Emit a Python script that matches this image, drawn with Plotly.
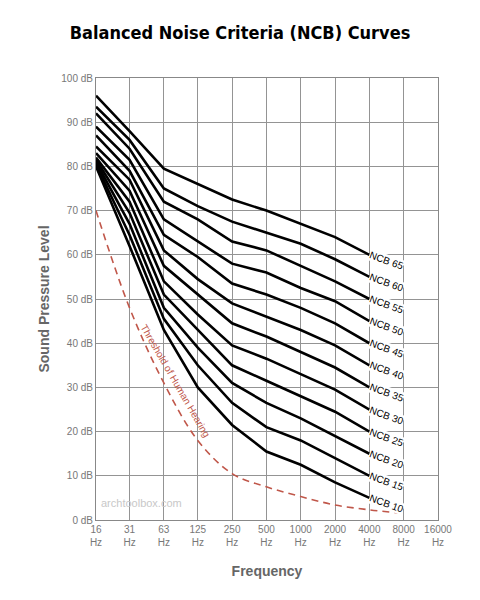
import numpy as np
import plotly.graph_objects as go

# octave band centre frequencies (Hz)
freqs = [16, 31.5, 63, 125, 250, 500, 1000, 2000, 4000, 8000]
tick_freqs = [16, 31.5, 63, 125, 250, 500, 1000, 2000, 4000, 8000, 16000]
tick_labels = ["16", "31", "63", "125", "250", "500", "1000", "2000", "4000", "8000", "16000"]

# NCB curves, sound pressure level (dB) per octave band
ncb_65 = [96, 88, 79.5, 76, 72.5, 70, 67, 64, 60, 57.5]
ncb_60 = [93.5, 86, 75, 71, 67.5, 65, 62.5, 59, 55, 52.5]
ncb_55 = [92, 84, 72, 68, 63, 61, 57.5, 54, 50, 47.5]
ncb_50 = [89, 81.5, 68, 63, 58, 56, 52.5, 49.5, 45, 42.5]
ncb_45 = [87, 79, 64.5, 59.5, 53.5, 51, 48, 44.5, 40, 37.5]
ncb_40 = [84.5, 77, 61, 54.5, 49, 46, 43, 39.5, 35, 32.5]
ncb_35 = [83, 74.5, 57.5, 51, 44.5, 41.5, 38, 34.5, 30, 27.5]
ncb_30 = [82, 72, 54, 46.5, 39.5, 36.5, 33, 29.5, 25, 22.5]
ncb_25 = [81.5, 69.5, 51, 43, 35, 31.5, 28, 24.5, 20, 17.5]
ncb_20 = [81, 67, 48, 39, 31, 26.5, 23, 19, 15, 12.5]
ncb_15 = [80.5, 64.5, 45.5, 35, 26.5, 21, 18, 14, 10, 7.5]
ncb_10 = [80, 62, 43, 30, 21.5, 15.5, 12.5, 8.5, 5, 2.5]

curves = {
    "NCB 65": ncb_65, "NCB 60": ncb_60, "NCB 55": ncb_55, "NCB 50": ncb_50,
    "NCB 45": ncb_45, "NCB 40": ncb_40, "NCB 35": ncb_35, "NCB 30": ncb_30,
    "NCB 25": ncb_25, "NCB 20": ncb_20, "NCB 15": ncb_15, "NCB 10": ncb_10,
}

# threshold of human hearing
threshold = [70, 48, 31, 18, 10.5, 7.5, 5.3, 3.4, 2.3, 1.5]

label_color = "#777777"
red = "#c0574a"

fig = go.Figure()

fig.add_trace(go.Scatter(x=freqs, y=threshold, mode="lines", line_shape="spline",
                         line=dict(color=red, width=1.6, dash="7px,5px"),
                         showlegend=False, hoverinfo="skip"))

for name, vals in curves.items():
    fig.add_trace(go.Scatter(x=freqs, y=vals, mode="lines",
                             line=dict(color="black", width=2.6),
                             showlegend=False, name=name))
    # label sits on the last segment (4000-8000 Hz), covering it
    fig.add_annotation(x=np.log10(np.sqrt(freqs[-2] * freqs[-1])),
                       y=(vals[-2] + vals[-1]) / 2,
                       text=name, showarrow=False, textangle=20,
                       font=dict(family="Liberation Sans, Arial", size=10, color="black"),
                       bgcolor="white", borderpad=0)

fig.add_annotation(x=np.log10(79), y=31.5, text="Threshold of Human Hearing",
                   showarrow=False, textangle=60,
                   font=dict(family="Liberation Sans, Arial", size=10, color=red))

fig.add_annotation(x=np.log10(40), y=3.8, text="archtoolbox.com", showarrow=False,
                   font=dict(family="Liberation Sans, Arial", size=11, color="#c8c8c8"))

# page body adds an 8px offset, margins are shifted to compensate
fig.update_layout(
    width=480, height=600,
    margin=dict(l=88, r=50, t=70, b=88),
    paper_bgcolor="white", plot_bgcolor="white",
    title=dict(text="<b>Balanced Noise Criteria (NCB) Curves</b>",
               x=(240 - 8) / 480, xanchor="center", y=1 - 25 / 600, yanchor="middle",
               font=dict(family="DejaVu Sans Condensed, sans-serif",
                         size=18, color="black")),
    font=dict(family="Liberation Sans, Arial", size=10, color=label_color),
)

fig.update_xaxes(type="log", range=[np.log10(16), np.log10(16000)],
                 tickvals=tick_freqs, ticktext=[t + "<br>Hz" for t in tick_labels],
                 showgrid=True, gridcolor="#949494", gridwidth=1,
                 showline=True, linecolor="#888888", linewidth=1, mirror=True,
                 ticks="", zeroline=False,
                 tickfont=dict(size=10, color=label_color),
                 title=dict(text="<b>Frequency</b>", standoff=19,
                            font=dict(size=14, color="#666666")))

fig.update_yaxes(range=[0, 100], tickvals=list(range(0, 101, 10)),
                 ticktext=[f"{v} dB" for v in range(0, 101, 10)],
                 showgrid=True, gridcolor="#949494", gridwidth=1,
                 showline=True, linecolor="#888888", linewidth=1, mirror=True,
                 ticks="", zeroline=False,
                 tickfont=dict(size=10, color=label_color),
                 title=dict(text="<b>Sound Pressure Level</b>", standoff=8,
                            font=dict(size=14, color="#666666")))

fig.write_html("out.html")
